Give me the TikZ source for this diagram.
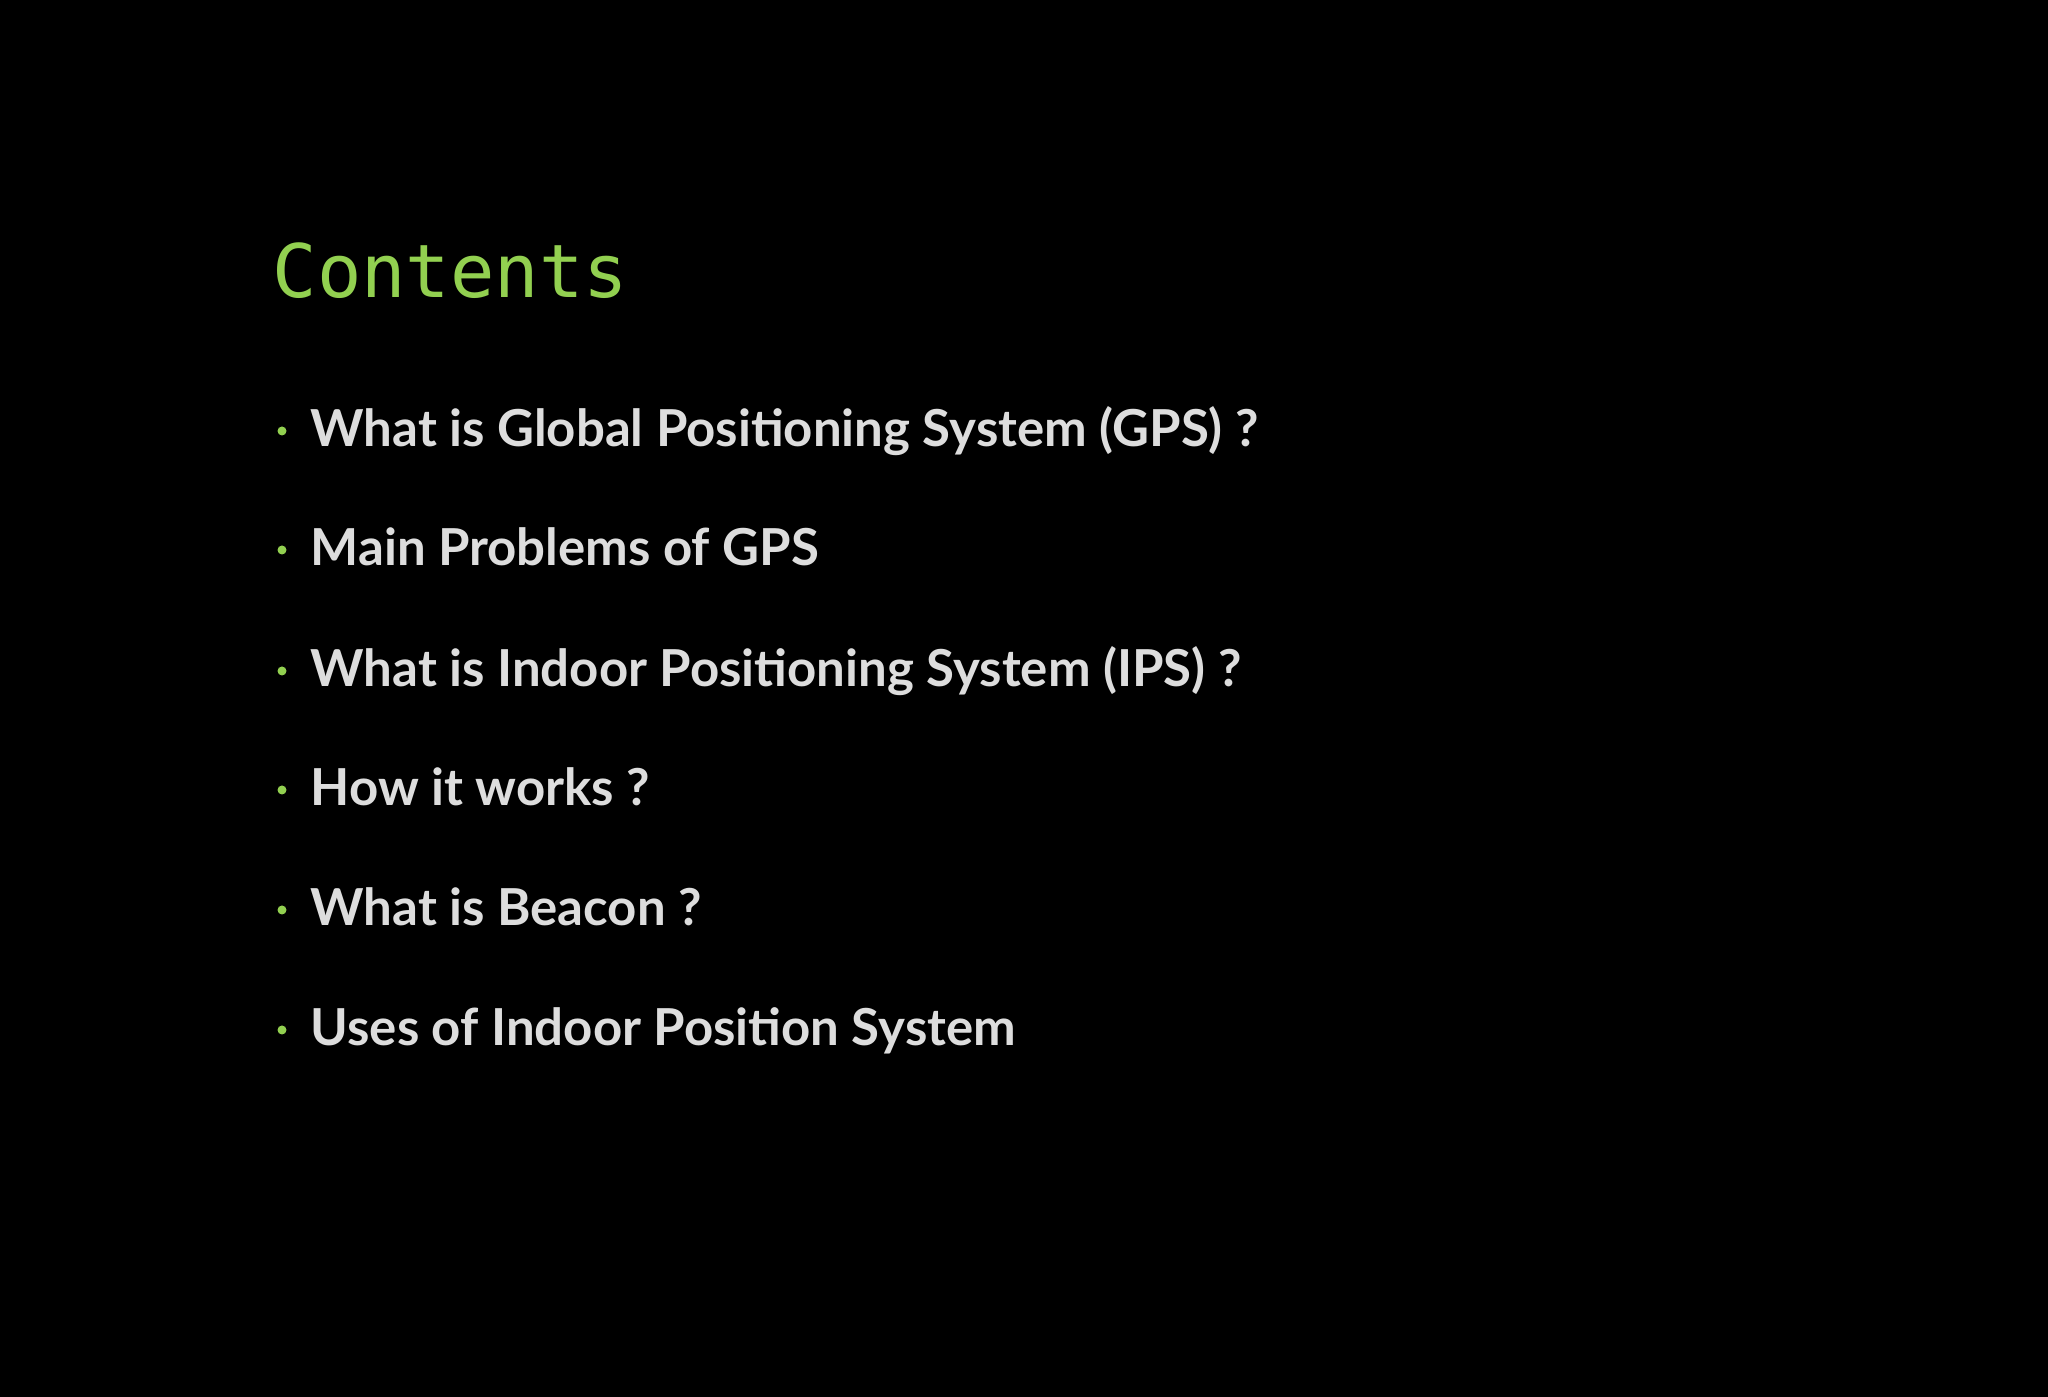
\documentclass[tikz,border=0pt]{standalone}
\usepackage{fontspec}
\setmainfont{Lato}
\newfontfamily\monof{DejaVu Sans Mono}
\definecolor{ttlgreen}{HTML}{92D050}
\definecolor{itemgray}{HTML}{DDDDDD}
\begin{document}
\begin{tikzpicture}[x=1cm,y=1cm,
  itemtext/.style={anchor=base west,inner sep=0pt,text=itemgray,font=\bfseries\fontsize{14.5}{16}\selectfont},
  bul/.style={circle,fill=ttlgreen,inner sep=0pt,minimum size=0.09cm}]
\fill[black] (0,0) rectangle (20.48,13.97);
\useasboundingbox (0,0) rectangle (20.48,13.97);
\node[anchor=base west,inner sep=0pt,text=ttlgreen,font=\monof\fontsize{21}{24}\selectfont] (title) at (2.72,10.99) {Contents};
\foreach \i/\y/\t in {1/9.50/{What is Global Positioning System (GPS) ?},
  2/8.31/{Main Problems of GPS},
  3/7.10/{What is Indoor Positioning System (IPS) ?},
  4/5.91/{How it works ?},
  5/4.71/{What is Beacon ?},
  6/3.51/{Uses of Indoor Position System}}{
  \node[bul] (b\i) at (2.82,\y+0.16) {};
  \node[itemtext] (t\i) at (3.10,\y) {\t};
}
\end{tikzpicture}
\end{document}
